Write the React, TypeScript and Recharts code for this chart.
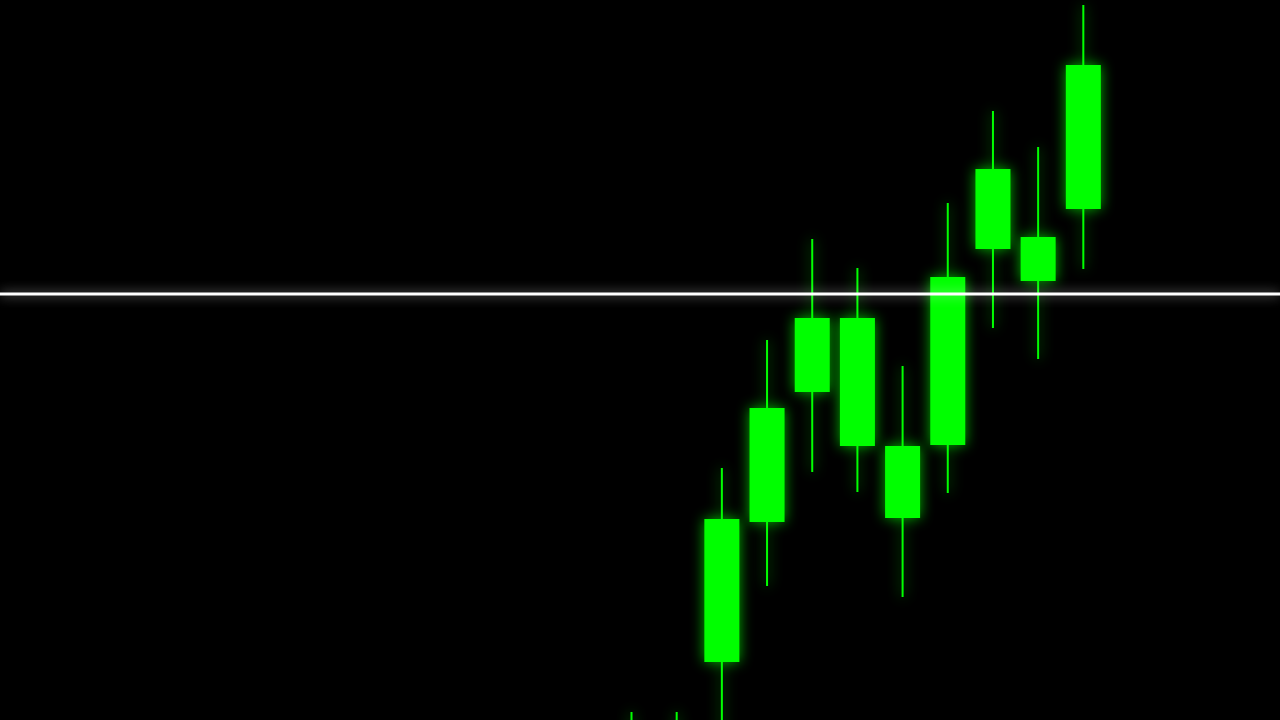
import React from 'react';
import { ComposedChart, Bar, XAxis, YAxis, ReferenceLine } from 'recharts';

// Candles, left to right (the first two sit almost entirely below the frame)
const TIMES = ['09:00', '09:15', '09:30', '09:45', '10:00', '10:15', '10:30', '10:45', '11:00', '11:15', '11:30'];
const OPEN = [-12, -11, 5.8, 19.8, 32.8, 27.4, 20.2, 27.5, 47.1, 43.9, 51.1];
const CLOSE = [-3, -2, 20.1, 31.2, 40.2, 40.2, 27.4, 44.3, 55.1, 48.3, 65.5];
const HIGH = [0.8, 0.8, 25.2, 38.0, 48.1, 45.2, 35.4, 51.7, 60.9, 57.3, 71.5];
const LOW = [-15, -14, -3, 13.4, 24.8, 22.8, 12.3, 22.7, 39.2, 36.1, 45.1];
const LEVEL = 42.6;

const GREEN = '#00ff00';
const WIDTH = 1280;
const HEIGHT = 720;

const data = TIMES.map((t, i) => ({
  time: t,
  open: OPEN[i],
  close: CLOSE[i],
  high: HIGH[i],
  low: LOW[i],
  range: [LOW[i], HIGH[i]]
}));

function Candle(props: any) {
  const { x, y, width, height, payload } = props;
  if (!payload || x == null || y == null) return null;
  const { open, close, high, low } = payload;
  const top0 = Math.min(y, y + height);
  const h = Math.abs(height);
  const ratio = h / (high - low);
  const cx = x + width / 2;
  const bodyTop = top0 + (high - Math.max(open, close)) * ratio;
  const bodyBottom = top0 + (high - Math.min(open, close)) * ratio;
  return (
    <g filter="url(#candleGlow)">
      <rect x={cx - 1} y={top0} width={2} height={h} fill={GREEN} />
      <rect x={x} y={bodyTop} width={width} height={Math.max(1, bodyBottom - bodyTop)} fill={GREEN} />
    </g>
  );
}

export default function App() {
  return (
    <div
      style={{
        position: 'absolute',
        left: 0,
        top: 0,
        width: WIDTH,
        height: HEIGHT,
        background: '#000000',
        overflow: 'hidden'
      }}
    >
      {/* glow filters, shared by id with the chart below */}
      <svg width={0} height={0} style={{ position: 'absolute' }}>
        <defs>
          <filter id="candleGlow" filterUnits="userSpaceOnUse" x={-100} y={-200} width={1480} height={1120}>
            <feGaussianBlur in="SourceGraphic" stdDeviation={7} result="blur" />
            <feComponentTransfer in="blur" result="soft">
              <feFuncA type="linear" slope={0.7} />
            </feComponentTransfer>
            <feMerge>
              <feMergeNode in="soft" />
              <feMergeNode in="SourceGraphic" />
            </feMerge>
          </filter>
          <filter id="lineGlow" filterUnits="userSpaceOnUse" x={-100} y={-200} width={1480} height={1120}>
            <feGaussianBlur in="SourceGraphic" stdDeviation={6} result="blur" />
            <feComponentTransfer in="blur" result="soft">
              <feFuncA type="linear" slope={0.6} />
            </feComponentTransfer>
            <feMerge>
              <feMergeNode in="soft" />
              <feMergeNode in="SourceGraphic" />
            </feMerge>
          </filter>
        </defs>
      </svg>

      <ComposedChart width={WIDTH} height={HEIGHT} data={data} margin={{ top: 0, right: 0, bottom: 0, left: 0 }}>
        <XAxis dataKey="time" hide padding={{ left: 609, right: 174 }} />
        <YAxis hide type="number" domain={[0, 72]} allowDataOverflow />
        <Bar dataKey="range" barSize={35} shape={Candle} isAnimationActive={false} />
        <ReferenceLine
          y={LEVEL}
          stroke="#ffffff"
          strokeWidth={3}
          ifOverflow="visible"
          style={{ filter: 'url(#lineGlow)' }}
        />
      </ComposedChart>
    </div>
  );
}
